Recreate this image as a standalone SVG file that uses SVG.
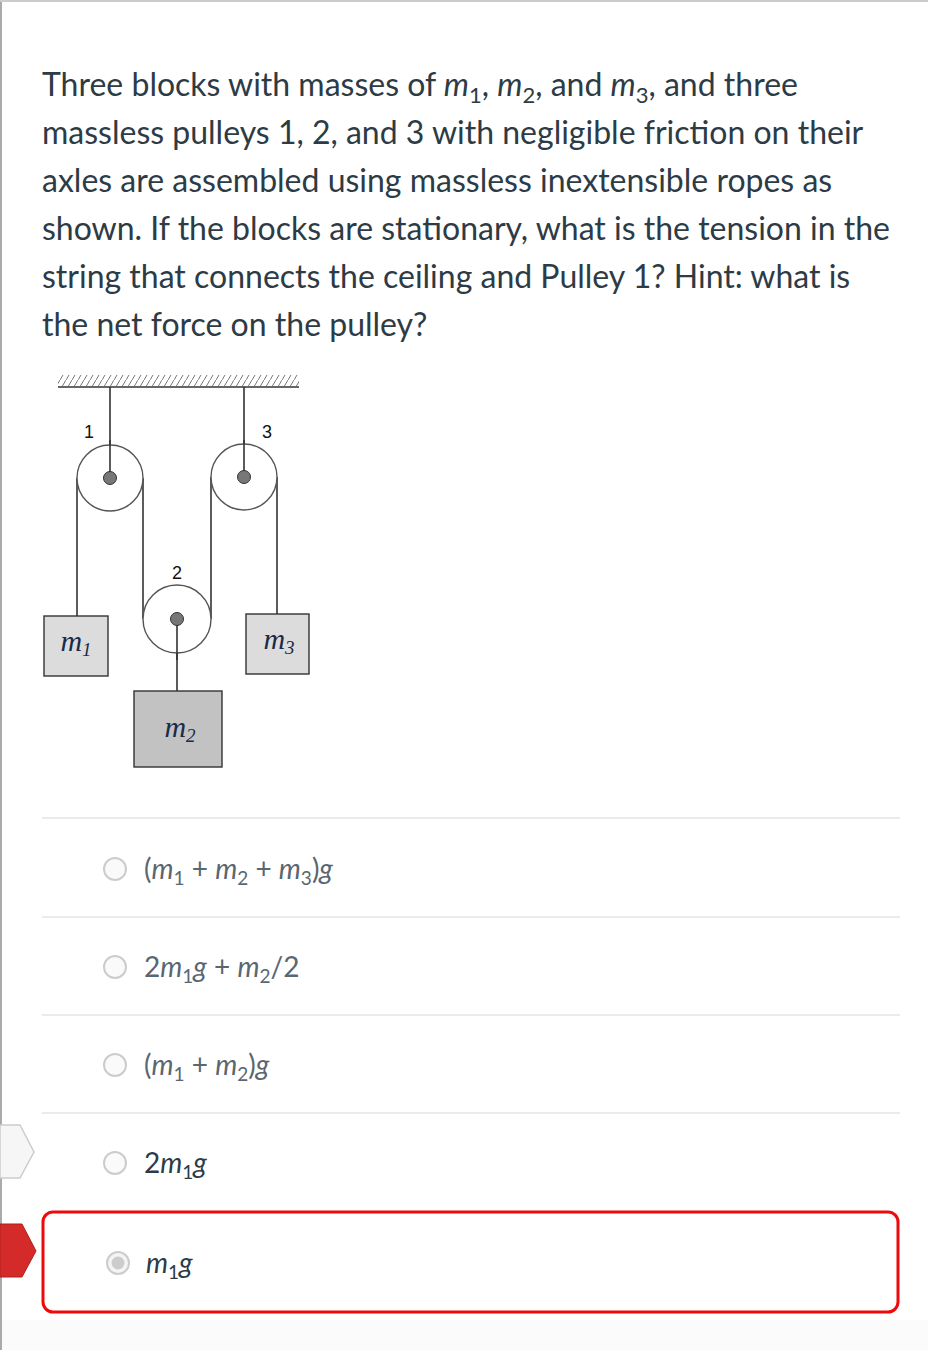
<svg xmlns="http://www.w3.org/2000/svg" width="928" height="1350" viewBox="0 0 928 1350">
<defs>
<style>
.q{font-family:Lato,"Liberation Sans",sans-serif;font-size:32px;fill:#2d3b45}
.mi{font-family:Lato,"Liberation Sans",sans-serif;font-style:italic}
.a{font-family:Lato,"Liberation Sans",sans-serif;font-size:28px;fill:#5a6670}
.ai{font-style:italic}
.rope{stroke:#333;stroke-width:1.6;fill:none}
.pul{fill:#fff;stroke:#555;stroke-width:1.4}
.ax{fill:#777;stroke:#333;stroke-width:1}
.lbl{font-family:"Liberation Sans",sans-serif;font-size:18px;fill:#111;text-anchor:middle}
.bl{font-family:"Liberation Serif",serif;font-style:italic;font-size:30px;fill:#1a2a4a;text-anchor:middle}
.sep{stroke:#e4e4e4;stroke-width:1.5}
.rad{fill:#fafafa;stroke:#ccc;stroke-width:2}
</style>
<pattern id="hatch" width="6" height="10" patternUnits="userSpaceOnUse"><line x1="0" y1="10" x2="6" y2="0" stroke="#777" stroke-width="1"/></pattern>
</defs>
<rect width="928" height="1350" fill="#fff"/>
<rect x="0" y="1320" width="928" height="30" fill="#fbfbfb"/>
<line x1="1" y1="0" x2="1" y2="1350" stroke="#aaa" stroke-width="2"/>
<line x1="0" y1="1" x2="928" y2="1" stroke="#ccc" stroke-width="2"/>
<g id="question">
<text class="q" x="42" y="96">Three blocks with masses of <tspan class="mi">m</tspan><tspan font-size="22" dy="7">1</tspan><tspan dy="-7">, </tspan><tspan class="mi">m</tspan><tspan font-size="22" dy="7">2</tspan><tspan dy="-7">, and </tspan><tspan class="mi">m</tspan><tspan font-size="22" dy="7">3</tspan><tspan dy="-7">, and three</tspan></text>
<text class="q" x="42" y="144">massless pulleys 1, 2, and 3 with negligible friction on their</text>
<text class="q" x="42" y="192">axles are assembled using massless inextensible ropes as</text>
<text class="q" x="42" y="240">shown. If the blocks are stationary, what is the tension in the</text>
<text class="q" x="42" y="288">string that connects the ceiling and Pulley 1? Hint: what is</text>
<text class="q" x="42" y="336">the net force on the pulley?</text>
</g>
<g id="ceiling">
<rect x="58" y="375" width="241" height="11" fill="url(#hatch)"/>
<line x1="58" y1="387" x2="299" y2="387" stroke="#333" stroke-width="1.6"/>
</g>
<g id="connectors">
<line class="rope" x1="110" y1="387" x2="110" y2="478"/>
<line class="rope" x1="244" y1="387" x2="244" y2="477"/>
<line class="rope" x1="77" y1="478" x2="77" y2="616"/>
<line class="rope" x1="143" y1="478" x2="143" y2="619"/>
<line class="rope" x1="211" y1="477" x2="211" y2="619"/>
<line class="rope" x1="277" y1="477" x2="277" y2="614"/>
<line class="rope" x1="177" y1="619" x2="177" y2="691"/>
</g>
<g id="pulley1"><circle class="pul" cx="110" cy="478" r="33"/><line class="rope" x1="110" y1="440" x2="110" y2="478"/><circle class="ax" cx="110" cy="478" r="6.5"/><text class="lbl" x="89" y="438">1</text></g>
<g id="pulley3"><circle class="pul" cx="244" cy="477" r="33"/><line class="rope" x1="244" y1="440" x2="244" y2="477"/><circle class="ax" cx="244" cy="477" r="6.5"/><text class="lbl" x="267" y="438">3</text></g>
<g id="pulley2"><circle class="pul" cx="177" cy="619" r="34"/><line class="rope" x1="177" y1="619" x2="177" y2="660"/><circle class="ax" cx="177" cy="619" r="6.5"/><text class="lbl" x="177" y="579">2</text></g>
<g id="m1"><rect x="44" y="616" width="64" height="60" fill="#dcdcdc" stroke="#333" stroke-width="1.4"/><text class="bl" x="76" y="651">m<tspan font-size="19" dy="5">1</tspan></text></g>
<g id="m3"><rect x="246" y="614" width="63" height="60" fill="#dcdcdc" stroke="#333" stroke-width="1.4"/><text class="bl" x="279" y="649">m<tspan font-size="19" dy="5">3</tspan></text></g>
<g id="m2"><rect x="134" y="691" width="88" height="76" fill="#c2c2c2" stroke="#333" stroke-width="1.4"/><text class="bl" x="180" y="737">m<tspan font-size="19" dy="5">2</tspan></text></g>
<g id="answers">
<line class="sep" x1="42" y1="818" x2="900" y2="818"/>
<line class="sep" x1="42" y1="917" x2="900" y2="917"/>
<line class="sep" x1="42" y1="1015" x2="900" y2="1015"/>
<line class="sep" x1="42" y1="1113" x2="900" y2="1113"/>
<circle class="rad" cx="115" cy="869" r="11"/>
<text class="a" x="144" y="879">(<tspan class="ai">m</tspan><tspan font-size="19" dy="6">1</tspan><tspan dy="-6"> + </tspan><tspan class="ai">m</tspan><tspan font-size="19" dy="6">2</tspan><tspan dy="-6"> + </tspan><tspan class="ai">m</tspan><tspan font-size="19" dy="6">3</tspan><tspan dy="-6">)</tspan><tspan class="ai">g</tspan></text>
<circle class="rad" cx="115" cy="967" r="11"/>
<text class="a" x="144" y="977">2<tspan class="ai">m</tspan><tspan font-size="19" dy="6">1</tspan><tspan class="ai" dy="-6">g</tspan> + <tspan class="ai">m</tspan><tspan font-size="19" dy="6">2</tspan><tspan dy="-6">/2</tspan></text>
<circle class="rad" cx="115" cy="1065" r="11"/>
<text class="a" x="144" y="1075">(<tspan class="ai">m</tspan><tspan font-size="19" dy="6">1</tspan><tspan dy="-6"> + </tspan><tspan class="ai">m</tspan><tspan font-size="19" dy="6">2</tspan><tspan dy="-6">)</tspan><tspan class="ai">g</tspan></text>
<path d="M0 1125 H20 L34 1152 L20 1178 H0 Z" fill="#f6f6f6" stroke="#ccc" stroke-width="1.5"/>
<circle class="rad" cx="115" cy="1163" r="11"/>
<text class="a" x="144" y="1173" style="fill:#2d3b45">2<tspan class="ai">m</tspan><tspan font-size="19" dy="6">1</tspan><tspan class="ai" dy="-6">g</tspan></text>
<path d="M0 1224 H22 L36 1251 L22 1277 H0 Z" fill="#d42a2a" stroke="#b01f1f" stroke-width="1"/>
<rect x="43" y="1212" width="855" height="100" rx="10" fill="none" stroke="#ee0a0a" stroke-width="3"/>
<circle cx="118" cy="1263" r="11" fill="#f4f4f4" stroke="#ccc" stroke-width="2"/>
<circle cx="118" cy="1263" r="6.5" fill="#ccc"/>
<text class="a" x="146" y="1273" style="fill:#2d3b45"><tspan class="ai">m</tspan><tspan font-size="19" dy="6">1</tspan><tspan class="ai" dy="-6">g</tspan></text>
</g>
</svg>
